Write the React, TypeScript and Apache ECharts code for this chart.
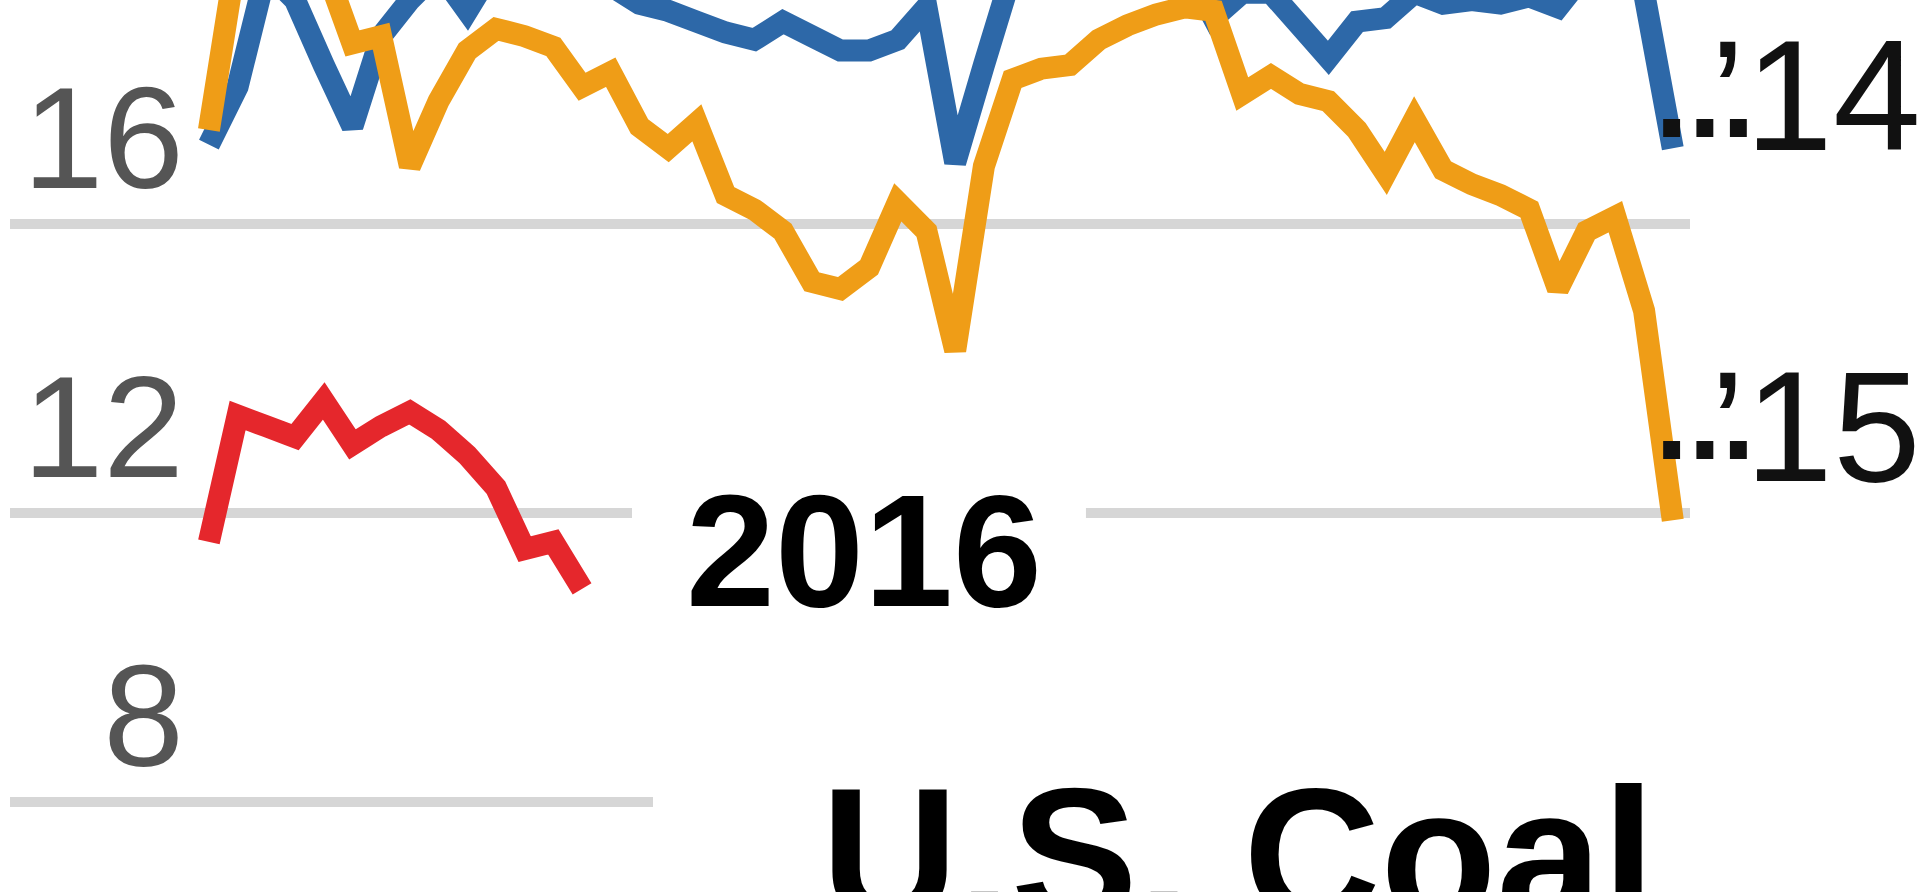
import * as echarts from 'echarts'
import { useEffect, useRef } from 'react'

// weekly U.S. coal output, million short tons (week 1..52)
const y2014 = [
  17.1, 17.9, 19.5, 19.1, 18.2, 17.35, 18.6, 19.1, 19.5, 18.95,
  19.6, 19.7, 19.6, 19.5, 19.3, 19.05, 18.95, 18.8, 18.65, 18.55,
  18.8, 18.6, 18.4, 18.4, 18.55, 19.0, 16.85, 18.2, 19.5, 19.6,
  19.6, 19.7, 19.6, 19.5, 19.6, 18.85, 19.2, 19.2, 18.75, 18.3,
  18.8, 18.85, 19.2, 19.05, 19.1, 19.05, 19.15, 19.0, 19.5, 19.6,
  19.2, 17.05,
]
const y2015 = [
  17.3, 19.8, 20.2, 20.0, 19.6, 18.5, 18.6, 16.8, 17.7, 18.4,
  18.7, 18.6, 18.45, 17.9, 18.1, 17.35, 17.05, 17.4, 16.4, 16.2,
  15.9, 15.2, 15.1, 15.4, 16.3, 15.9, 14.25, 16.8, 18.0, 18.15,
  18.2, 18.55, 18.75, 18.9, 19.0, 18.95, 17.8, 18.05, 17.8, 17.7,
  17.3, 16.7, 17.45, 16.75, 16.55, 16.4, 16.2, 15.1, 15.9, 16.1,
  14.8, 11.9,
]
const y2016 = [
  11.6, 13.35, 13.2, 13.05, 13.55, 12.95, 13.2, 13.4, 13.15, 12.8,
  12.35, 11.5, 11.6, 10.95,
]
const tickLabels = [8, 12, 16]
const seriesLabels = ['\u201914', '\u201915']
const yearLabel = '2016'
const title = 'U.S. Coal'

const FONT = '"Liberation Sans", Arial, sans-serif'
// the chart is taller than the page: its top (value 20) sits above the visible area
const OFFSET = 65

const toPoints = (values: number[]) => values.map((v, i) => [i + 1, v])

const lineSeries = (name: string, values: number[], color: string) => ({
  type: 'line' as const,
  name,
  data: toPoints(values),
  symbol: 'none',
  lineStyle: { color, width: 22, join: 'miter' as const, miterLimit: 2.5 },
})

const textStyle = (text: string, size: number, bold = false, fill = '#111') => ({
  text,
  fontFamily: FONT,
  fontSize: size,
  fontWeight: bold ? 'bold' : 'normal',
  fill,
  verticalAlign: 'middle',
})

const buildOption = (): echarts.EChartsOption => ({
  animation: false,
  backgroundColor: '#fff',
  grid: { left: 10, right: 230, top: 0, bottom: 0 },
  xAxis: { type: 'value', min: -5.93, max: 52.6, show: false },
  yAxis: {
    type: 'value',
    min: 4,
    max: 20,
    interval: 4,
    axisLine: { show: false },
    axisTick: { show: false },
    splitLine: { lineStyle: { color: '#d6d6d6', width: 10 } },
    axisLabel: {
      inside: true,
      margin: 174,
      align: 'right',
      verticalAlign: 'bottom',
      lineHeight: 172,
      fontFamily: FONT,
      fontSize: 145,
      color: '#555',
      formatter: (v: number) => (tickLabels.includes(v) ? String(v) : ''),
    },
  },
  series: [
    lineSeries('2014', y2014, '#2d68a8'),
    lineSeries('2015', y2015, '#ef9d17'),
    lineSeries('2016', y2016, '#e5272c'),
  ],
  graphic: [
    { type: 'rect', z: 10, shape: { x: 653, y: 790 + OFFSET, width: 1267, height: 200 }, style: { fill: '#fff' } },
    { type: 'text', z: 11, x: 821, y: 854 + OFFSET, style: textStyle(title, 190, true, '#000') },
    {
      type: 'text', z: 11, x: 632, y: 550 + OFFSET,
      style: { ...textStyle(yearLabel, 160, true, '#000'), backgroundColor: '#fff', padding: [0, 44, 0, 54] },
    },
    { type: 'text', z: 20, x: 1655, y: 95 + OFFSET, style: textStyle('...', 120, true) },
    { type: 'text', z: 20, x: 1655, y: 417 + OFFSET, style: textStyle('...', 120, true) },
    { type: 'text', z: 20, x: 1710, y: 95 + OFFSET, style: textStyle(seriesLabels[0], 158) },
    { type: 'text', z: 20, x: 1710, y: 426 + OFFSET, style: textStyle(seriesLabels[1], 158) },
  ],
})

const App = () => {
  const containerRef = useRef<HTMLDivElement>(null)

  useEffect(() => {
    if (!containerRef.current) return
    const chart = echarts.init(containerRef.current, undefined, { renderer: 'svg' })
    chart.setOption(buildOption())
    return () => chart.dispose()
  }, [])

  return (
    <div
      ref={containerRef}
      style={{ position: 'fixed', left: 0, top: -OFFSET, width: 1920, height: 1156 }}
    />
  )
}

export default App
